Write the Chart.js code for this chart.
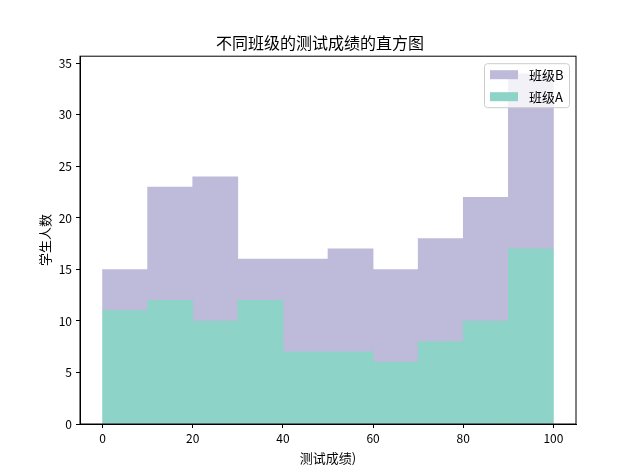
<!DOCTYPE html>
<html>
<head>
<meta charset="utf-8">
<script src="https://cdn.jsdelivr.net/npm/chart.js@4.4.0/dist/chart.umd.min.js"></script>
<style>
  html, body { margin: 0; padding: 0; background: #fff; }
  #wrap { width: 640px; height: 476px; }
</style>
</head>
<body>
<div id="wrap"><canvas id="histChart"></canvas></div>
<script>
// bins of 10 points, 0-100
const binStarts = [0, 10, 20, 30, 40, 50, 60, 70, 80, 90];
const binWidth = 10;
const classA = [11, 12, 10, 12, 7, 7, 6, 8, 10, 17];
const classB = [4, 11, 14, 4, 9, 10, 9, 10, 12, 17];
const xTicks = [0, 20, 40, 60, 80, 100];
const yTicks = [0, 5, 10, 15, 20, 25, 30, 35];

const fontFam = '"Noto Sans CJK SC", "DejaVu Sans", sans-serif';

function toPoints(vals) {
    return vals.map((v, i) => ({ x: binStarts[i] + binWidth / 2, y: v }));
}

// matplotlib-style legend inside the axes, upper right, with frame
const boxLegend = {
    id: 'boxLegend',
    afterDraw(chart) {
        const ctx = chart.ctx;
        const area = chart.chartArea;
        const items = chart.data.datasets.slice().reverse();
        const w = 85, h = 44;
        const x0 = area.right - 7 - w, y0 = area.top + 7;
        ctx.save();
        ctx.beginPath();
        ctx.roundRect(x0 + 0.5, y0 + 0.5, w, h, 3);
        ctx.fillStyle = 'rgba(255,255,255,0.8)';
        ctx.fill();
        ctx.strokeStyle = '#cccccc';
        ctx.lineWidth = 1;
        ctx.stroke();
        ctx.font = '13px ' + fontFam;
        ctx.textBaseline = 'middle';
        items.forEach((ds, i) => {
            const cy = y0 + 11 + i * 22;
            ctx.fillStyle = ds.backgroundColor;
            ctx.fillRect(x0 + 6, cy - 4, 28, 9);
            ctx.fillStyle = '#000';
            ctx.fillText(ds.label, x0 + 45, cy + 1);
        });
        ctx.restore();
    }
};

// spines on all four sides
const frameBox = {
    id: 'frameBox',
    afterDatasetsDraw(chart) {
        const ctx = chart.ctx;
        const a = chart.chartArea;
        ctx.save();
        ctx.strokeStyle = '#000';
        ctx.lineWidth = 1;
        ctx.strokeRect(a.left, a.top, a.right - a.left, a.bottom - a.top);
        ctx.restore();
    }
};

document.addEventListener("DOMContentLoaded", function () {

new Chart(document.getElementById('histChart'), {
    type: 'bar',
    data: {
        datasets: [{
            label: '班级A',
            data: toPoints(classA),
            backgroundColor: '#8dd3c7',
            borderWidth: 0,
            barPercentage: 1,
            categoryPercentage: 1
        }, {
            label: '班级B',
            data: toPoints(classB),
            backgroundColor: '#bebada',
            borderWidth: 0,
            barPercentage: 1,
            categoryPercentage: 1
        }]
    },
    options: {
        responsive: true,
        maintainAspectRatio: false,
        animation: false,
        layout: { padding: 0 },
        plugins: {
            legend: { display: false },
            tooltip: { enabled: false },
            title: {
                display: true,
                text: '不同班级的测试成绩的直方图',
                color: '#000',
                font: { family: fontFam, size: 16, weight: 'normal' },
                padding: { top: 33, bottom: 4 }
            }
        },
        scales: {
            x: {
                type: 'linear',
                stacked: true,
                offset: false,
                min: -5,
                max: 105,
                afterBuildTicks: s => { s.ticks = xTicks.map(v => ({ value: v })); },
                afterFit: s => { s.height = 52; },
                grid: { display: true, offset: false, drawOnChartArea: false, drawTicks: true, tickLength: 4, color: '#000' },
                border: { display: true, color: '#000', width: 1 },
                ticks: { color: '#000', padding: 3, font: { family: fontFam, size: 12 }, maxRotation: 0 },
                title: {
                    display: true,
                    text: '测试成绩)',
                    color: '#000',
                    font: { family: fontFam, size: 13 },
                    padding: { top: 0, bottom: 10 }
                }
            },
            y: {
                stacked: true,
                min: 0,
                max: 35.7,
                afterBuildTicks: s => { s.ticks = yTicks.map(v => ({ value: v })); },
                afterFit: s => { s.width = 80; },
                grid: { display: true, drawOnChartArea: false, drawTicks: true, tickLength: 4, color: '#000' },
                border: { display: true, color: '#000', width: 1 },
                ticks: { color: '#000', padding: 4, font: { family: fontFam, size: 12 } },
                title: {
                    display: true,
                    text: '学生人数',
                    color: '#000',
                    font: { family: fontFam, size: 13 },
                    padding: { top: 37, bottom: 0 }
                }
            },
            // empty right margin so the title centres over the plot
            yRight: {
                position: 'right',
                display: true,
                afterFit: s => { s.width = 64; },
                grid: { display: false },
                border: { display: false },
                ticks: { display: false }
            }
        }
    },
    plugins: [frameBox, boxLegend]
});

});
</script>
</body>
</html>
